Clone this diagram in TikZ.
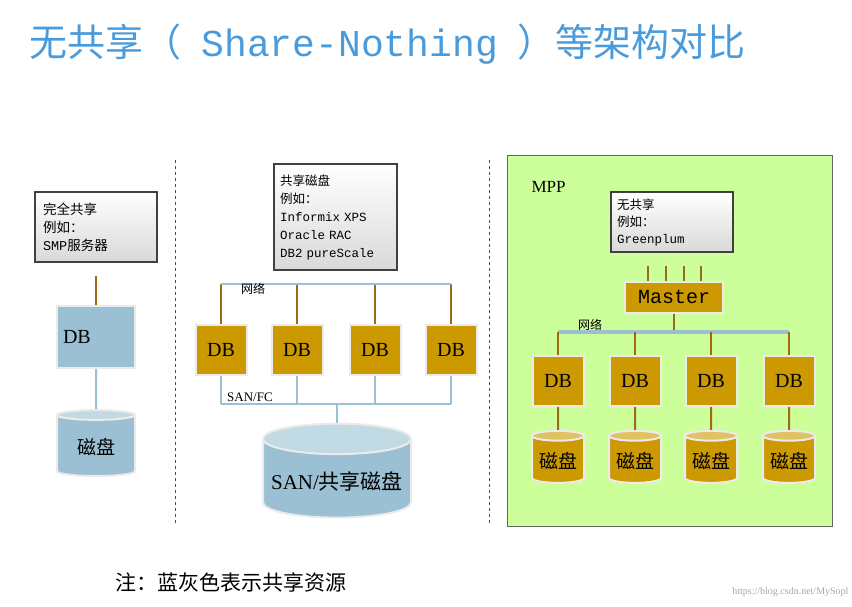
\documentclass[tikz,border=0pt]{standalone}
\usepackage{fontspec}
\setmainfont{Liberation Serif}
\newfontfamily\cjk{Noto Sans CJK SC}
\newfontfamily\mono{Liberation Mono}
\usetikzlibrary{shapes.geometric,positioning}
\definecolor{gold}{HTML}{CC9900}
\definecolor{goldtop}{HTML}{E2C064}
\definecolor{steel}{HTML}{9BC0D3}
\definecolor{steeltop}{HTML}{C2DAE4}
\definecolor{brownline}{HTML}{9C6A10}
\definecolor{titleblue}{HTML}{4A9BDB}
\definecolor{mppgreen}{HTML}{CCFF99}

\begin{document}
\begin{tikzpicture}[x=1pt, y=-1pt,
    note/.style={rectangle, draw=black!75, line width=2pt, top color=white, bottom color=black!15, align=left, inner sep=8pt, font=\mono\fontsize{12.5}{18}\selectfont},
    dbgold/.style={rectangle, draw=black!8, line width=2pt, fill=gold, minimum width=51pt, minimum height=50pt, font=\fontsize{20}{20}\selectfont},
    disk/.style={cylinder, shape border rotate=90, aspect=0.22, draw=black!8, line width=2pt, cylinder uses custom fill, minimum width=52pt, minimum height=52pt, font=\cjk\fontsize{19}{20}\selectfont},
    golddisk/.style={disk, cylinder body fill=gold, cylinder end fill=goldtop},
    steeldisk/.style={disk, cylinder body fill=steel, cylinder end fill=steeltop},
    wire/.style={brownline, line width=2pt},
    bus/.style={steel, line width=2pt}
]
\useasboundingbox (0,0) rectangle (852,606);

% Title
\node[anchor=west, text=titleblue, font=\cjk\fontsize{38}{40}\selectfont] (title) at (26,44) {无共享（\hspace{20pt}{\mono Share-Nothing}\hspace{20pt}）等架构对比};

% Separators and MPP panel
\draw[dashed, black!70, thick] (175,160) -- (175,525);
\draw[dashed, black!70, thick] (489,160) -- (489,525);
\node[rectangle, draw=black!60, fill=mppgreen, minimum width=325pt, minimum height=371pt, anchor=north west] (mpp) at (507,155) {};
\node[anchor=west, font=\fontsize{17}{18}\selectfont] (mpplabel) at (528,187) {MPP};

% Shared everything
\node[note, minimum width=122pt, minimum height=70pt, text width=106pt, font=\mono\fontsize{13.5}{18}\selectfont] (smp) at (96,227) {{\cjk 完全共享}\\{\cjk 例如：}\\SMP{\cjk 服务器}};
\node[rectangle, draw=black!8, line width=2pt, fill=steel, minimum width=78pt, minimum height=62pt, text width=66pt, font=\fontsize{20}{20}\selectfont] (smpdb) at (96,337) {DB};
\node[steeldisk, minimum width=78pt, minimum height=66pt] (smpdisk) at (96,447) {磁盘};
\draw[wire] (96,276) -- (smpdb.north);
\draw[bus] (smpdb.south) -- (smpdisk.north);

% Shared disk
\node[note, minimum width=123pt, minimum height=106pt, text width=110pt, inner sep=6pt] (shared) at (335,217) {{\cjk 共享磁盘}\\{\cjk 例如：}\\Informix XPS\\Oracle RAC\\DB2 pureScale};
\foreach \x/\n in {221/a, 297/b, 375/c, 451/d} {
  \node[dbgold] (sd\n) at (\x,350) {DB};
  \coordinate (net\n) at (\x,284);
  \coordinate (san\n) at (\x,404);
  \draw[wire] (net\n) -- (sd\n.north);
  \draw[bus] (sd\n.south) -- (san\n);
}
\draw[bus] (neta) -- (netd);
\draw[bus] (sana) -- (sand);
\node[anchor=west, font=\cjk\fontsize{12}{13}\selectfont, inner sep=0pt] (netlabel) at (241,289) {网络};
\node[anchor=west, font=\fontsize{13}{14}\selectfont, inner sep=0pt] (sanlabel) at (227,397) {SAN/FC};
\node[steeldisk, minimum width=148pt, minimum height=94pt, font=\fontsize{21}{22}\selectfont] (san) at (337,481) {SAN/{\cjk 共享磁盘}};
\coordinate (sanmid) at (337,404);
\draw[bus] (sanmid) -- (san.north);

% Shared nothing
\node[note, minimum width=122pt, minimum height=60pt, text width=110pt, inner sep=6pt, font=\mono\fontsize{12.5}{17}\selectfont] (gp) at (672,222) {{\cjk 无共享}\\{\cjk 例如：}\\Greenplum};
\node[rectangle, draw=black!8, line width=2pt, fill=gold, minimum width=98pt, minimum height=31pt, font=\mono\fontsize{20}{20}\selectfont] (master) at (674,297) {Master};
\foreach \x in {648,666,684,701}
  \draw[wire] (\x,266) -- (\x,281);
\coordinate (mppnet) at (674,332);
\draw[wire] (master.south) -- (mppnet);
\draw[steel, line width=4pt] (558,332) -- (789,332);
\node[anchor=west, font=\cjk\fontsize{12}{13}\selectfont, inner sep=0pt] (mppnetlabel) at (578,325) {网络};
\foreach \x/\n in {558/a, 635/b, 711/c, 789/d} {
  \node[dbgold] (md\n) at (\x,381) {DB};
  \node[golddisk] (mk\n) at (\x,461) {磁盘};
  \coordinate (mn\n) at (\x,332);
  \draw[wire] (mn\n) -- (md\n.north);
  \draw[wire] (md\n.south) -- (mk\n.north);
}

% Footer
\node[anchor=west, font=\cjk\fontsize{21}{22}\selectfont] (footer) at (112,582) {注：蓝灰色表示共享资源};
\node[anchor=east, text=black!35, font=\fontsize{10}{11}\selectfont] (mark) at (852,592) {https://blog.csdn.net/MySopl};
\end{tikzpicture}
\end{document}
